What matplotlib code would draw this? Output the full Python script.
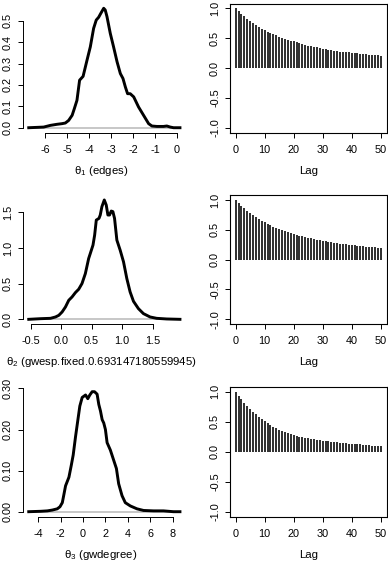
import matplotlib
matplotlib.use("Agg")
import matplotlib.pyplot as plt
from matplotlib.transforms import Bbox, TransformedBbox

plt.rcParams["font.family"] = ["Liberation Sans", "DejaVu Sans"]
plt.rcParams["mathtext.fontset"] = "custom"
plt.rcParams["mathtext.rm"] = "Liberation Sans"
plt.rcParams["mathtext.it"] = "Liberation Sans:italic"
plt.rcParams["axes.unicode_minus"] = False

# posterior density traces
edges_x = [-6.76, -6.08, -5.77, -5.47, -5.24, -5.09, -4.94, -4.78, -4.68, -4.56, -4.44,
           -4.28, -4.10, -3.95, -3.80, -3.68, -3.57, -3.49, -3.34, -3.27, -3.19, -3.04,
           -2.89, -2.73, -2.58, -2.46, -2.35, -2.25, -2.13, -1.97, -1.75, -1.52, -1.29,
           -1.14, -0.91, -0.61, -0.46, -0.30, -0.15, 0.14]
edges_y = [0.0, 0.003, 0.011, 0.016, 0.019, 0.022, 0.034, 0.058, 0.089, 0.128, 0.222,
           0.240, 0.316, 0.378, 0.464, 0.503, 0.516, 0.531, 0.558, 0.550, 0.519, 0.441,
           0.378, 0.308, 0.253, 0.230, 0.190, 0.159, 0.159, 0.144, 0.097, 0.058, 0.019,
           0.008, 0.006, 0.006, 0.008, 0.003, 0.0, 0.0]

gwesp_x = [-0.53, -0.337, -0.174, -0.092, -0.038, 0.016, 0.071, 0.125, 0.179, 0.234,
           0.288, 0.342, 0.397, 0.451, 0.478, 0.522, 0.549, 0.576, 0.620, 0.641, 0.668,
           0.707, 0.739, 0.766, 0.793, 0.821, 0.848, 0.875, 0.913, 0.967, 1.022, 1.076,
           1.130, 1.185, 1.266, 1.348, 1.457, 1.565, 1.728, 1.946]
gwesp_y = [0.0, 0.009, 0.014, 0.033, 0.056, 0.103, 0.173, 0.267, 0.314, 0.375, 0.422,
           0.502, 0.642, 0.853, 0.924, 1.041, 1.181, 1.392, 1.416, 1.463, 1.580, 1.674,
           1.603, 1.463, 1.463, 1.519, 1.510, 1.416, 1.111, 0.970, 0.806, 0.572, 0.384,
           0.253, 0.150, 0.080, 0.033, 0.014, 0.005, 0.0]

gwdeg_x = [-4.83, -3.76, -3.17, -2.73, -2.29, -2.05, -1.84, -1.69, -1.55, -1.25, -1.04,
           -0.87, -0.66, -0.45, -0.28, -0.07, 0.23, 0.43, 0.61, 0.82, 1.03, 1.26, 1.41,
           1.56, 1.71, 1.85, 2.00, 2.15, 2.44, 2.74, 2.98, 3.18, 3.48, 3.77, 4.22, 4.81,
           5.40, 6.29, 7.17, 8.06, 8.64]
gwdeg_y = [0.0, 0.001, 0.002, 0.004, 0.007, 0.012, 0.022, 0.043, 0.063, 0.084, 0.113,
           0.138, 0.183, 0.224, 0.257, 0.278, 0.284, 0.275, 0.284, 0.292, 0.292, 0.286,
           0.261, 0.245, 0.224, 0.216, 0.200, 0.168, 0.150, 0.125, 0.105, 0.068, 0.039,
           0.022, 0.014, 0.007, 0.003, 0.002, 0.002, 0.0, 0.0]

# autocorrelations, lags 0..50
lags = list(range(51))
acf_edges = [1.00, 0.95, 0.905, 0.865, 0.825, 0.79, 0.755, 0.72, 0.69, 0.66, 0.635,
             0.61, 0.585, 0.565, 0.545, 0.525, 0.505, 0.49, 0.475, 0.46, 0.445, 0.43,
             0.415, 0.40, 0.39, 0.375, 0.365, 0.355, 0.345, 0.335, 0.325, 0.315, 0.305,
             0.30, 0.29, 0.285, 0.275, 0.27, 0.265, 0.26, 0.255, 0.25, 0.245, 0.24,
             0.235, 0.23, 0.225, 0.22, 0.215, 0.21, 0.205]
acf_gwesp = [1.00, 0.95, 0.90, 0.86, 0.82, 0.785, 0.75, 0.715, 0.685, 0.655, 0.63,
             0.60, 0.575, 0.555, 0.53, 0.51, 0.49, 0.475, 0.46, 0.445, 0.43, 0.415,
             0.40, 0.39, 0.375, 0.365, 0.355, 0.345, 0.335, 0.325, 0.315, 0.305, 0.295,
             0.29, 0.28, 0.275, 0.265, 0.26, 0.255, 0.25, 0.245, 0.24, 0.235, 0.23,
             0.225, 0.22, 0.215, 0.21, 0.205, 0.20, 0.195]
acf_gwdeg = [1.00, 0.93, 0.87, 0.815, 0.76, 0.71, 0.665, 0.62, 0.58, 0.54, 0.505,
             0.475, 0.445, 0.415, 0.39, 0.365, 0.345, 0.325, 0.305, 0.29, 0.275, 0.26,
             0.25, 0.24, 0.23, 0.22, 0.21, 0.205, 0.195, 0.19, 0.185, 0.175, 0.17,
             0.165, 0.16, 0.155, 0.15, 0.145, 0.14, 0.135, 0.13, 0.125, 0.12, 0.12,
             0.115, 0.11, 0.105, 0.10, 0.10, 0.095, 0.09]

labels = [r"θ$_1$ (edges)",
          r"θ$_2$ (gwesp.fixed.0.693147180559945)",
          r"θ$_3$ (gwdegree)"]
dens_xticks = [[-6, -5, -4, -3, -2, -1, 0],
               [-0.5, 0.0, 0.5, 1.0, 1.5],
               [-4, -2, 0, 2, 4, 6, 8]]
dens_xticklabels = [["-6", "-5", "-4", "-3", "-2", "-1", "0"],
                    ["-0.5", "0.0", "0.5", "1.0", "1.5"],
                    ["-4", "-2", "0", "2", "4", "6", "8"]]
dens_yticks = [[0.0, 0.1, 0.2, 0.3, 0.4, 0.5],
               [0.0, 0.5, 1.0, 1.5],
               [0.0, 0.1, 0.2, 0.3]]
dens_yticklabels = [["0.0", "0.1", "0.2", "0.3", "0.4", "0.5"],
                    ["0.0", "0.5", "1.0", "1.5"],
                    ["0.00", "0.10", "0.20", "0.30"]]
acf_yticks = [-1.0, -0.5, 0.0, 0.5, 1.0]
acf_yticklabels = ["-1.0", "-0.5", "0.0", "0.5", "1.0"]
acf_xticks = [0, 10, 20, 30, 40, 50]

TICK_FS = 7.8
LABEL_FS = 8.2
W, H = 388, 562


def style_axis(ax):
    ax.tick_params(direction="out", length=3.4, width=0.7, labelsize=TICK_FS, pad=5.5)
    ax.tick_params(axis="y", pad=3.6)
    for lab in ax.get_yticklabels():
        lab.set_rotation(90)
        lab.set_va("center")


def plot_density(ax, x, y, i):
    lo, hi = min(x), max(x)
    ext = 0.04 * (hi - lo)
    top = max(y)
    ax.hlines(0, lo, hi, color="#bebebe", lw=1.2, zorder=1)
    ax.plot(x, y, color="black", lw=2.1, solid_joinstyle="round", zorder=2)
    ax.set_xlim(lo - ext, hi + ext)
    ax.set_ylim(-0.04 * top, 1.04 * top)
    ax.set_xticks(dens_xticks[i], dens_xticklabels[i])
    ax.set_yticks(dens_yticks[i], dens_yticklabels[i])
    for s in ["top", "right"]:
        ax.spines[s].set_visible(False)
    ax.spines["left"].set_bounds(dens_yticks[i][0], dens_yticks[i][-1])
    ax.spines["bottom"].set_bounds(dens_xticks[i][0], dens_xticks[i][-1])
    for s in ["left", "bottom"]:
        ax.spines[s].set_linewidth(0.7)
    style_axis(ax)
    ax.set_xlabel(labels[i], fontsize=LABEL_FS, va="center")
    ax.xaxis.set_label_coords(0.479, -0.295)
    # R clips the axis title to the left figure cell
    clip = TransformedBbox(Bbox([[0, 0], [196 / W, 1]]), ax.figure.transFigure)
    ax.xaxis.label.set_clip_box(clip)
    ax.xaxis.label.set_clip_on(True)


def plot_acf(ax, vals):
    ax.vlines(lags, 0, vals, color="black", lw=1.15)
    ax.set_xlim(-2, 52)
    ax.set_ylim(-1.08, 1.08)
    ax.set_xticks(acf_xticks)
    ax.set_yticks(acf_yticks, acf_yticklabels)
    for s in ax.spines.values():
        s.set_linewidth(0.8)
    style_axis(ax)
    ax.set_xlabel("Lag", fontsize=LABEL_FS, va="center")
    ax.xaxis.set_label_coords(0.5, -0.295)


fig = plt.figure(figsize=(W / 100, H / 100), dpi=100)

# plot regions in pixels: (top, bottom) of each row
rows_px = [(3.5, 132.5), (195.2, 324.1), (386.9, 516.5)]
dens_px = (22.7, 186.0)
acf_px = (229.8, 386.5)

dens_data = [(edges_x, edges_y), (gwesp_x, gwesp_y), (gwdeg_x, gwdeg_y)]
acf_data = [acf_edges, acf_gwesp, acf_gwdeg]

for i, (t, b) in enumerate(rows_px):
    bottom = 1 - b / H
    height = (b - t) / H
    ax_d = fig.add_axes([dens_px[0] / W, bottom, (dens_px[1] - dens_px[0]) / W, height])
    plot_density(ax_d, dens_data[i][0], dens_data[i][1], i)
    ax_a = fig.add_axes([acf_px[0] / W, bottom, (acf_px[1] - acf_px[0]) / W, height])
    plot_acf(ax_a, acf_data[i])

fig.savefig("out.png", dpi=100)
